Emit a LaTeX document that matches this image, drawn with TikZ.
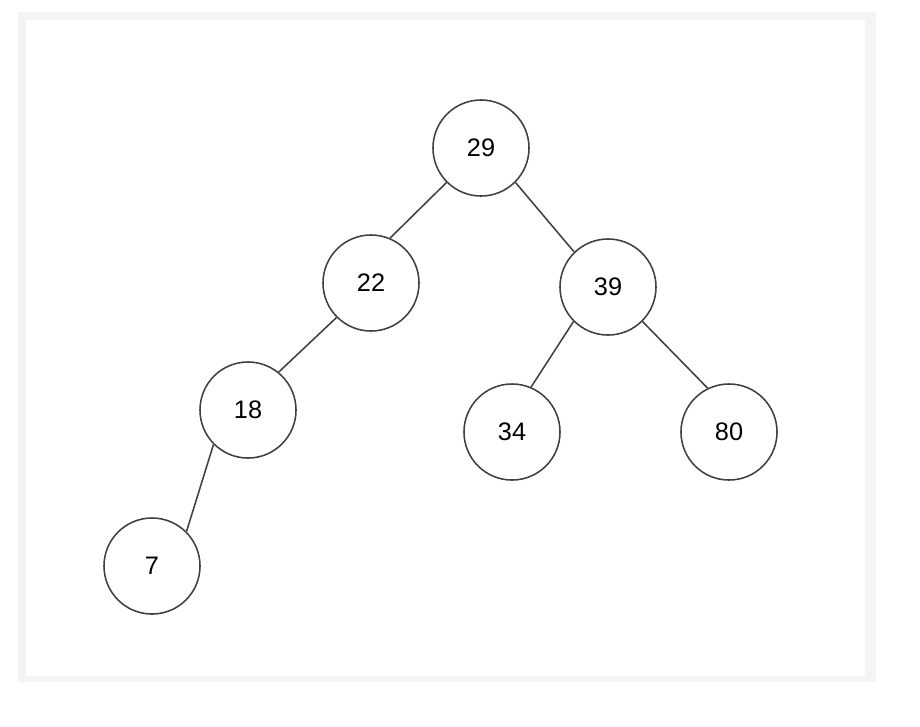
\documentclass[tikz,border=0pt]{standalone}
\usepackage{fontspec}
\setmainfont{Liberation Sans}
\usepackage{tikz}
\usetikzlibrary{positioning}
\definecolor{framegray}{HTML}{F4F4F4}
\tikzset{
  treenode/.style={circle,draw=black!75,line width=1.1pt,minimum size=2.4cm,inner sep=0pt,font=\fontsize{18}{20}\selectfont},
  treeedge/.style={draw=black!75,line width=1.1pt}
}

\begin{document}
\begin{tikzpicture}[x=0.025cm,y=-0.025cm]
    \useasboundingbox (0,0) rectangle (920,726);
    \fill [framegray] (18,12) rectangle (876,682);
    \fill [white] (26,20) rectangle (865,676);
    \node [treenode] (n29) at (481,148) {29};
    \node [treenode] (n22) at (371,283) {22};
    \node [treenode] (n39) at (608,287) {39};
    \node [treenode] (n18) at (248,410) {18};
    \node [treenode] (n34) at (512,432) {34};
    \node [treenode] (n80) at (729,432) {80};
    \node [treenode] (n7) at (152,566) {7};
    \draw [treeedge] (n29.225) -- (n22.67);
    \draw [treeedge] (n29.315) -- (n39.134);
    \draw [treeedge] (n22.225) -- (n18.51);
    \draw [treeedge] (n18.225) -- (n7.45);
    \draw [treeedge] (n39.225) -- (n34.67);
    \draw [treeedge] (n39.315) -- (n80.116);
  \end{tikzpicture}
\end{document}
